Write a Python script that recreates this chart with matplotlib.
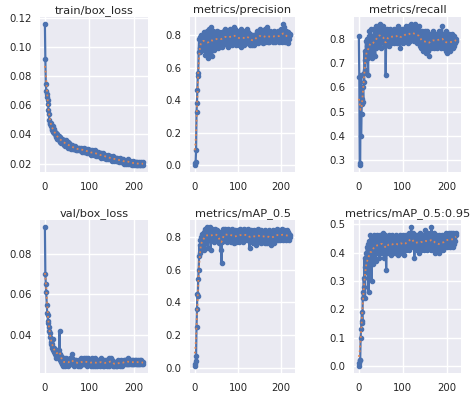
import numpy as np
import matplotlib
matplotlib.use("Agg")
import matplotlib.pyplot as plt

titles = ["train/box_loss", "metrics/precision", "metrics/recall",
          "val/box_loss", "metrics/mAP_0.5", "metrics/mAP_0.5:0.95"]

train_box_loss = [
    0.116, 0.092, 0.075, 0.070, 0.068, 0.066, 0.064, 0.061, 0.057, 0.054, 0.050,
    0.048, 0.047, 0.046, 0.048, 0.045, 0.044, 0.043, 0.046, 0.042, 0.041,
    0.044, 0.040, 0.042, 0.039, 0.041, 0.038, 0.040, 0.037, 0.039, 0.038,
    0.036, 0.039, 0.037, 0.035, 0.038, 0.036, 0.034, 0.037, 0.035, 0.036,
    0.034, 0.036, 0.033, 0.035, 0.034, 0.032, 0.036, 0.033, 0.034, 0.032,
    0.035, 0.033, 0.031, 0.034, 0.032, 0.033, 0.031, 0.033, 0.030, 0.032,
    0.031, 0.033, 0.030, 0.032, 0.031, 0.030, 0.032, 0.030, 0.031, 0.029,
    0.031, 0.030, 0.029, 0.031, 0.030, 0.029, 0.031, 0.029, 0.030, 0.029,
    0.031, 0.029, 0.030, 0.028, 0.030, 0.029, 0.031, 0.028, 0.030, 0.029,
    0.028, 0.030, 0.028, 0.029, 0.027, 0.029, 0.028, 0.030, 0.027, 0.028,
    0.029, 0.027, 0.028, 0.026, 0.028, 0.027, 0.029, 0.027, 0.028, 0.026,
    0.028, 0.027, 0.029, 0.026, 0.028, 0.025, 0.027, 0.026, 0.028, 0.025,
    0.027, 0.026, 0.025, 0.027, 0.026, 0.024, 0.027, 0.025, 0.026, 0.025,
    0.027, 0.024, 0.026, 0.025, 0.024, 0.026, 0.025, 0.023, 0.025, 0.024,
    0.026, 0.024, 0.023, 0.025, 0.024, 0.023, 0.025, 0.024, 0.023, 0.024,
    0.022, 0.024, 0.023, 0.025, 0.023, 0.022, 0.024, 0.023, 0.022, 0.024,
    0.023, 0.022, 0.024, 0.022, 0.023, 0.021, 0.023, 0.022, 0.024, 0.022,
    0.021, 0.023, 0.022, 0.021, 0.023, 0.022, 0.021, 0.022, 0.020, 0.022,
    0.021, 0.022, 0.020, 0.022, 0.021, 0.023, 0.021, 0.020, 0.022, 0.021,
    0.020, 0.022, 0.021, 0.020, 0.021, 0.019, 0.021, 0.020, 0.022, 0.020,
    0.019, 0.021, 0.020, 0.019, 0.021, 0.020, 0.019, 0.021, 0.020, 0.019,
    0.020, 0.021, 0.019, 0.020, 0.019, 0.021, 0.020, 0.019, 0.020, 0.021, 0.019,
]

precision = [
    0.00, 0.01, 0.02, 0.09, 0.33, 0.38, 0.46, 0.55, 0.57, 0.70, 0.78,
    0.72, 0.79, 0.70, 0.76, 0.80, 0.74, 0.78, 0.71, 0.80, 0.76,
    0.82, 0.74, 0.79, 0.68, 0.81, 0.73, 0.77, 0.83, 0.70, 0.78,
    0.66, 0.80, 0.75, 0.84, 0.69, 0.79, 0.85, 0.72, 0.81, 0.67,
    0.78, 0.83, 0.74, 0.80, 0.71, 0.82, 0.76, 0.79, 0.73, 0.81,
    0.77, 0.83, 0.72, 0.80, 0.75, 0.82, 0.78, 0.74, 0.81, 0.76,
    0.79, 0.73, 0.82, 0.77, 0.80, 0.74, 0.83, 0.76, 0.81, 0.78,
    0.84, 0.75, 0.80, 0.77, 0.83, 0.73, 0.81, 0.79, 0.76, 0.82,
    0.78, 0.84, 0.75, 0.80, 0.77, 0.83, 0.74, 0.81, 0.79, 0.85,
    0.76, 0.82, 0.78, 0.84, 0.74, 0.80, 0.77, 0.83, 0.75, 0.81,
    0.79, 0.74, 0.82, 0.77, 0.80, 0.73, 0.84, 0.78, 0.76, 0.81,
    0.75, 0.82, 0.79, 0.74, 0.80, 0.77, 0.83, 0.76, 0.81, 0.78,
    0.84, 0.75, 0.79, 0.82, 0.76, 0.80, 0.74, 0.78, 0.81, 0.75,
    0.79, 0.74, 0.77, 0.80, 0.75, 0.78, 0.76, 0.74, 0.79, 0.77,
    0.81, 0.76, 0.78, 0.83, 0.77, 0.80, 0.75, 0.82, 0.79, 0.84,
    0.77, 0.81, 0.76, 0.83, 0.78, 0.80, 0.75, 0.82, 0.79, 0.77,
    0.81, 0.76, 0.84, 0.78, 0.80, 0.77, 0.85, 0.79, 0.76, 0.82,
    0.78, 0.80, 0.76, 0.83, 0.79, 0.77, 0.81, 0.78, 0.82, 0.76,
    0.80, 0.77, 0.83, 0.79, 0.81, 0.76, 0.82, 0.78, 0.80, 0.77,
    0.81, 0.79, 0.83, 0.76, 0.80, 0.78, 0.82, 0.77, 0.84, 0.79,
    0.81, 0.76, 0.83, 0.79, 0.87, 0.80, 0.85, 0.78, 0.82, 0.76,
    0.80, 0.83, 0.77, 0.81, 0.79, 0.75, 0.82, 0.80, 0.78, 0.81, 0.80,
]

recall = [
    0.81, 0.64, 0.28, 0.29, 0.65, 0.40, 0.49, 0.55, 0.53, 0.60, 0.54,
    0.66, 0.62, 0.75, 0.67, 0.71, 0.79, 0.74, 0.80, 0.77, 0.72,
    0.65, 0.81, 0.76, 0.83, 0.73, 0.79, 0.84, 0.75, 0.81, 0.72,
    0.80, 0.77, 0.74, 0.84, 0.78, 0.82, 0.73, 0.85, 0.79, 0.76,
    0.83, 0.80, 0.77, 0.85, 0.79, 0.82, 0.86, 0.78, 0.84, 0.80,
    0.76, 0.83, 0.79, 0.85, 0.81, 0.78, 0.84, 0.80, 0.77, 0.82,
    0.65, 0.81, 0.78, 0.84, 0.80, 0.83, 0.79, 0.82, 0.77, 0.81,
    0.84, 0.80, 0.78, 0.83, 0.81, 0.79, 0.82, 0.80, 0.84, 0.78,
    0.82, 0.80, 0.83, 0.79, 0.81, 0.78, 0.84, 0.80, 0.82, 0.85,
    0.79, 0.83, 0.81, 0.76, 0.82, 0.80, 0.84, 0.79, 0.82, 0.78,
    0.81, 0.84, 0.80, 0.83, 0.79, 0.82, 0.85, 0.80, 0.83, 0.81,
    0.78, 0.82, 0.85, 0.80, 0.83, 0.79, 0.84, 0.81, 0.86, 0.82,
    0.80, 0.84, 0.81, 0.85, 0.79, 0.83, 0.80, 0.86, 0.82, 0.79,
    0.84, 0.81, 0.78, 0.83, 0.80, 0.85, 0.82, 0.79, 0.83, 0.77,
    0.81, 0.76, 0.83, 0.79, 0.75, 0.82, 0.78, 0.80, 0.76, 0.83,
    0.79, 0.74, 0.81, 0.77, 0.83, 0.75, 0.80, 0.78, 0.73, 0.82,
    0.78, 0.80, 0.76, 0.82, 0.79, 0.77, 0.81, 0.78, 0.83, 0.76,
    0.80, 0.78, 0.82, 0.77, 0.81, 0.79, 0.76, 0.82, 0.80, 0.78,
    0.81, 0.77, 0.83, 0.79, 0.80, 0.76, 0.82, 0.78, 0.85, 0.80,
    0.77, 0.82, 0.79, 0.76, 0.81, 0.78, 0.75, 0.80, 0.83, 0.77,
    0.74, 0.80, 0.78, 0.82, 0.76, 0.79, 0.81, 0.75, 0.80, 0.77,
    0.82, 0.78, 0.76, 0.80, 0.79, 0.77, 0.81, 0.78, 0.80, 0.79, 0.80,
]

val_box_loss = [
    0.093, 0.070, 0.065, 0.061, 0.055, 0.051, 0.050, 0.047, 0.046, 0.044, 0.042,
    0.041, 0.039, 0.036, 0.037, 0.034, 0.036, 0.035, 0.038, 0.033, 0.032,
    0.034, 0.031, 0.033, 0.030, 0.032, 0.029, 0.031, 0.033, 0.030, 0.032,
    0.029, 0.033, 0.042, 0.031, 0.028, 0.030, 0.027, 0.029, 0.026, 0.025,
    0.027, 0.029, 0.026, 0.028, 0.025, 0.027, 0.029, 0.026, 0.028, 0.027,
    0.025, 0.027, 0.026, 0.028, 0.026, 0.027, 0.029, 0.026, 0.028, 0.031,
    0.029, 0.027, 0.026, 0.028, 0.025, 0.027, 0.026, 0.028, 0.027, 0.026,
    0.028, 0.026, 0.027, 0.025, 0.027, 0.026, 0.028, 0.026, 0.027, 0.025,
    0.027, 0.029, 0.026, 0.028, 0.026, 0.027, 0.029, 0.026, 0.028, 0.027,
    0.026, 0.029, 0.027, 0.025, 0.028, 0.026, 0.027, 0.029, 0.026, 0.027,
    0.028, 0.026, 0.025, 0.027, 0.026, 0.029, 0.027, 0.025, 0.028, 0.026,
    0.027, 0.025, 0.029, 0.026, 0.028, 0.026, 0.025, 0.027, 0.026, 0.028,
    0.026, 0.027, 0.025, 0.028, 0.026, 0.029, 0.027, 0.026, 0.028, 0.025,
    0.027, 0.026, 0.028, 0.025, 0.027, 0.026, 0.028, 0.027, 0.025, 0.026,
    0.028, 0.026, 0.027, 0.025, 0.029, 0.027, 0.026, 0.028, 0.029, 0.027,
    0.026, 0.028, 0.025, 0.027, 0.026, 0.025, 0.027, 0.026, 0.025, 0.027,
    0.026, 0.027, 0.025, 0.026, 0.028, 0.026, 0.027, 0.025, 0.027, 0.026,
    0.028, 0.026, 0.027, 0.025, 0.027, 0.026, 0.028, 0.027, 0.026, 0.028,
    0.027, 0.026, 0.028, 0.026, 0.027, 0.029, 0.026, 0.027, 0.028, 0.026,
    0.027, 0.028, 0.026, 0.027, 0.026, 0.028, 0.027, 0.026, 0.028, 0.027,
    0.026, 0.028, 0.027, 0.026, 0.027, 0.028, 0.026, 0.027, 0.028, 0.026,
    0.027, 0.026, 0.028, 0.027, 0.026, 0.027, 0.028, 0.026, 0.027, 0.027, 0.026,
]

map50 = [
    0.01, 0.02, 0.04, 0.07, 0.25, 0.36, 0.45, 0.44, 0.54, 0.60, 0.68,
    0.75, 0.70, 0.78, 0.72, 0.80, 0.76, 0.82, 0.74, 0.79, 0.81,
    0.72, 0.83, 0.78, 0.85, 0.76, 0.82, 0.84, 0.79, 0.86, 0.73,
    0.81, 0.85, 0.78, 0.83, 0.86, 0.79, 0.72, 0.84, 0.81, 0.85,
    0.78, 0.83, 0.80, 0.84, 0.77, 0.82, 0.85, 0.79, 0.83, 0.80,
    0.84, 0.78, 0.82, 0.79, 0.83, 0.76, 0.81, 0.78, 0.80, 0.72,
    0.79, 0.64, 0.77, 0.83, 0.80, 0.85, 0.78, 0.84, 0.81, 0.79,
    0.85, 0.80, 0.83, 0.77, 0.84, 0.79, 0.82, 0.85, 0.78, 0.83,
    0.80, 0.84, 0.77, 0.82, 0.79, 0.85, 0.81, 0.78, 0.83, 0.80,
    0.76, 0.84, 0.79, 0.82, 0.77, 0.83, 0.80, 0.78, 0.84, 0.79,
    0.82, 0.77, 0.83, 0.80, 0.85, 0.78, 0.82, 0.79, 0.84, 0.81,
    0.77, 0.83, 0.80, 0.85, 0.78, 0.82, 0.79, 0.84, 0.80, 0.83,
    0.78, 0.81, 0.85, 0.79, 0.82, 0.80, 0.73, 0.83, 0.79, 0.81,
    0.84, 0.78, 0.82, 0.76, 0.83, 0.80, 0.78, 0.84, 0.79, 0.82,
    0.75, 0.81, 0.84, 0.78, 0.82, 0.79, 0.85, 0.80, 0.77, 0.83,
    0.79, 0.82, 0.76, 0.84, 0.80, 0.78, 0.83, 0.81, 0.77, 0.82,
    0.79, 0.84, 0.76, 0.81, 0.78, 0.83, 0.80, 0.76, 0.82, 0.79,
    0.84, 0.78, 0.81, 0.77, 0.83, 0.79, 0.75, 0.82, 0.80, 0.78,
    0.84, 0.79, 0.76, 0.82, 0.80, 0.83, 0.78, 0.81, 0.79, 0.85,
    0.80, 0.83, 0.78, 0.82, 0.79, 0.84, 0.81, 0.78, 0.83, 0.80,
    0.82, 0.79, 0.85, 0.81, 0.78, 0.84, 0.80, 0.83, 0.79, 0.82,
    0.78, 0.81, 0.84, 0.80, 0.79, 0.83, 0.81, 0.78, 0.82, 0.80, 0.81,
]

map50_95 = [
    0.00, 0.01, 0.02, 0.02, 0.10, 0.13, 0.16, 0.19, 0.15, 0.26, 0.24,
    0.31, 0.28, 0.38, 0.24, 0.35, 0.40, 0.33, 0.42, 0.38, 0.36,
    0.43, 0.26, 0.41, 0.44, 0.38, 0.46, 0.40, 0.43, 0.30, 0.45,
    0.36, 0.44, 0.41, 0.46, 0.39, 0.43, 0.45, 0.37, 0.44, 0.42,
    0.46, 0.40, 0.44, 0.41, 0.45, 0.38, 0.43, 0.46, 0.42, 0.44,
    0.40, 0.45, 0.42, 0.47, 0.41, 0.44, 0.38, 0.43, 0.46, 0.41,
    0.44, 0.34, 0.42, 0.45, 0.40, 0.44, 0.42, 0.46, 0.41, 0.43,
    0.45, 0.42, 0.44, 0.39, 0.43, 0.46, 0.41, 0.44, 0.42, 0.45,
    0.40, 0.44, 0.43, 0.46, 0.41, 0.45, 0.42, 0.44, 0.39, 0.43,
    0.45, 0.41, 0.44, 0.46, 0.42, 0.43, 0.45, 0.40, 0.44, 0.42,
    0.46, 0.43, 0.39, 0.45, 0.42, 0.44, 0.41, 0.46, 0.43, 0.45,
    0.42, 0.44, 0.47, 0.41, 0.45, 0.43, 0.46, 0.44, 0.49, 0.43,
    0.45, 0.42, 0.47, 0.44, 0.46, 0.38, 0.44, 0.42, 0.46, 0.43,
    0.45, 0.41, 0.44, 0.46, 0.43, 0.40, 0.45, 0.42, 0.47, 0.44,
    0.41, 0.45, 0.43, 0.46, 0.42, 0.44, 0.41, 0.45, 0.43, 0.48,
    0.44, 0.42, 0.46, 0.43, 0.41, 0.45, 0.47, 0.42, 0.44, 0.46,
    0.43, 0.45, 0.41, 0.44, 0.49, 0.43, 0.46, 0.42, 0.44, 0.47,
    0.42, 0.45, 0.43, 0.40, 0.44, 0.46, 0.42, 0.45, 0.41, 0.44,
    0.40, 0.43, 0.46, 0.42, 0.44, 0.41, 0.45, 0.43, 0.46, 0.42,
    0.44, 0.41, 0.45, 0.43, 0.46, 0.42, 0.44, 0.47, 0.43, 0.45,
    0.42, 0.46, 0.44, 0.47, 0.43, 0.45, 0.42, 0.46, 0.44, 0.47,
    0.43, 0.46, 0.44, 0.42, 0.47, 0.45, 0.43, 0.46, 0.44, 0.47, 0.46,
]

series = [train_box_loss, precision, recall, val_box_loss, map50, map50_95]


def gaussian_smooth(y, sigma=3.0, truncate=4.0):
    y = np.asarray(y, dtype=float)
    r = int(truncate * sigma + 0.5)
    k = np.arange(-r, r + 1)
    w = np.exp(-0.5 * (k / sigma) ** 2)
    w /= w.sum()
    yp = np.pad(y, r, mode="symmetric")
    return np.convolve(yp, w, mode="valid")


plt.rcParams.update({
    "axes.facecolor": "#EAEAF2",
    "figure.facecolor": "white",
    "axes.edgecolor": "white",
    "axes.grid": True,
    "grid.color": "white",
    "grid.linewidth": 1.0,
    "axes.linewidth": 0,
    "xtick.color": "#262626",
    "ytick.color": "#262626",
    "text.color": "#262626",
    "xtick.major.size": 0,
    "ytick.major.size": 0,
    "font.family": "DejaVu Sans",
})

W, H = 474, 398
fig = plt.figure(figsize=(W / 100, H / 100), dpi=100)

# pixel boxes: (left, top, right, bottom)
boxes = [
    (40, 17, 148, 172), (190, 17, 295, 172), (354, 17, 461, 172),
    (40, 220, 148, 373), (190, 220, 295, 373), (354, 220, 461, 373),
]

for (l, t, r, b), title, y in zip(boxes, titles, series):
    ax = fig.add_axes([l / W, 1 - b / H, (r - l) / W, (b - t) / H])
    x = np.arange(len(y))
    ax.plot(x, y, marker=".", color="#4C72B0", linewidth=1.6, markersize=6,
            zorder=2)
    ax.plot(x, gaussian_smooth(y), ":", color="#DD8452", linewidth=1.3,
            zorder=3)
    ax.set_title(title, fontsize=8.2, pad=3)
    ax.tick_params(axis="x", labelsize=7.3, pad=7)
    ax.tick_params(axis="y", labelsize=7.3, pad=6)
    ax.set_xticks([0, 100, 200])
    for s in ax.spines.values():
        s.set_visible(False)
    ax.set_axisbelow(True)

fig.savefig("out.png", dpi=100)
